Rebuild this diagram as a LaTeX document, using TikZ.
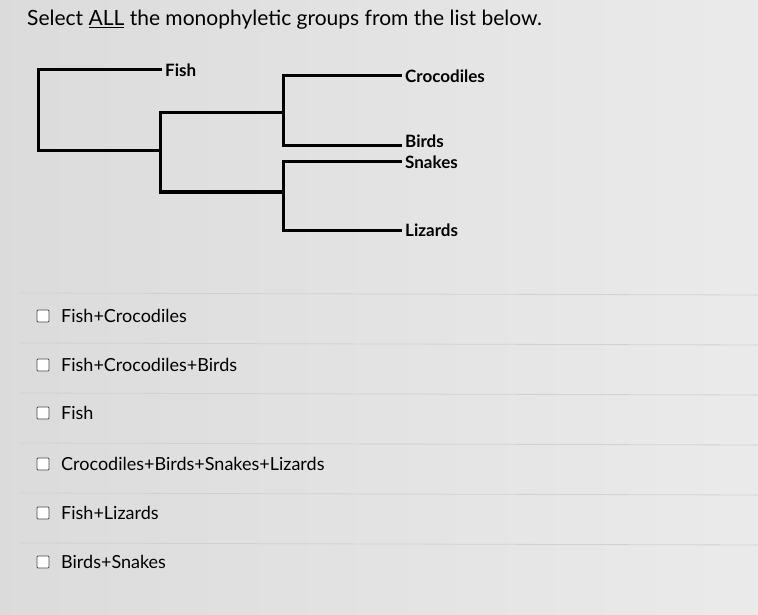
\documentclass[tikz,border=0pt]{standalone}
\usepackage{fontspec}
\setmainfont{Lato}
\begin{document}
\begin{tikzpicture}[x=1pt,y=-1pt,
  br/.style={line width=3pt,line cap=rect},
  lbl/.style={anchor=west,font=\fontsize{17}{19}\selectfont\bfseries,inner sep=5pt},
  opt/.style={anchor=west,font=\fontsize{18}{20}\selectfont,inner sep=0pt},
  box/.style={draw=black!70,line width=0.9pt,rounded corners=1pt,minimum size=12pt,inner sep=0pt,fill=white},
  sep/.style={draw=black!18,line width=0.8pt}]
\fill[left color=black!14,right color=black!8] (0,0) rectangle (758,615);
\useasboundingbox (0,0) rectangle (758,615);
\node[anchor=west,font=\fontsize{21}{24}\selectfont,inner sep=0pt] (title) at (27,20) {Select \underline{ALL} the monophyletic groups from the list below.};
% labels
\node[lbl] (fish) at (160,70) {Fish};
\node[lbl] (croc) at (400,76) {Crocodiles};
\node[lbl] (birds) at (400,141) {Birds};
\node[lbl] (snakes) at (400,162) {Snakes};
\node[lbl] (liz) at (400,230) {Lizards};
\coordinate (bend) at (400,146);
% tree
\draw[br] (fish.west) -- (38,70) -- (38,151) -- (160,151);
\draw[br] (160,113) -- (160,192);
\draw[br] (160,113) -- (283,113);
\draw[br] (160,192) -- (283,192);
\draw[br] (croc.west) -- (283,76) -- (283,146) -- (bend);
\draw[br] (snakes.west) -- (283,162) -- (283,230) -- (liz.west);
% separators
\foreach \y in {293,343,393,443,493,543}{\draw[sep] (20,\y) -- (758,\y+2);}
% options
\foreach \y/\t/\n in {316/Fish+Crocodiles/a,365/Fish+Crocodiles+Birds/b,413/Fish/c,464/Crocodiles+Birds+Snakes+Lizards/d,513/Fish+Lizards/e,562/Birds+Snakes/f}{
  \node[box] (b\n) at (43,\y) {};
  \node[opt] (t\n) at (61,\y) {\t};
}
\end{tikzpicture}
\end{document}
